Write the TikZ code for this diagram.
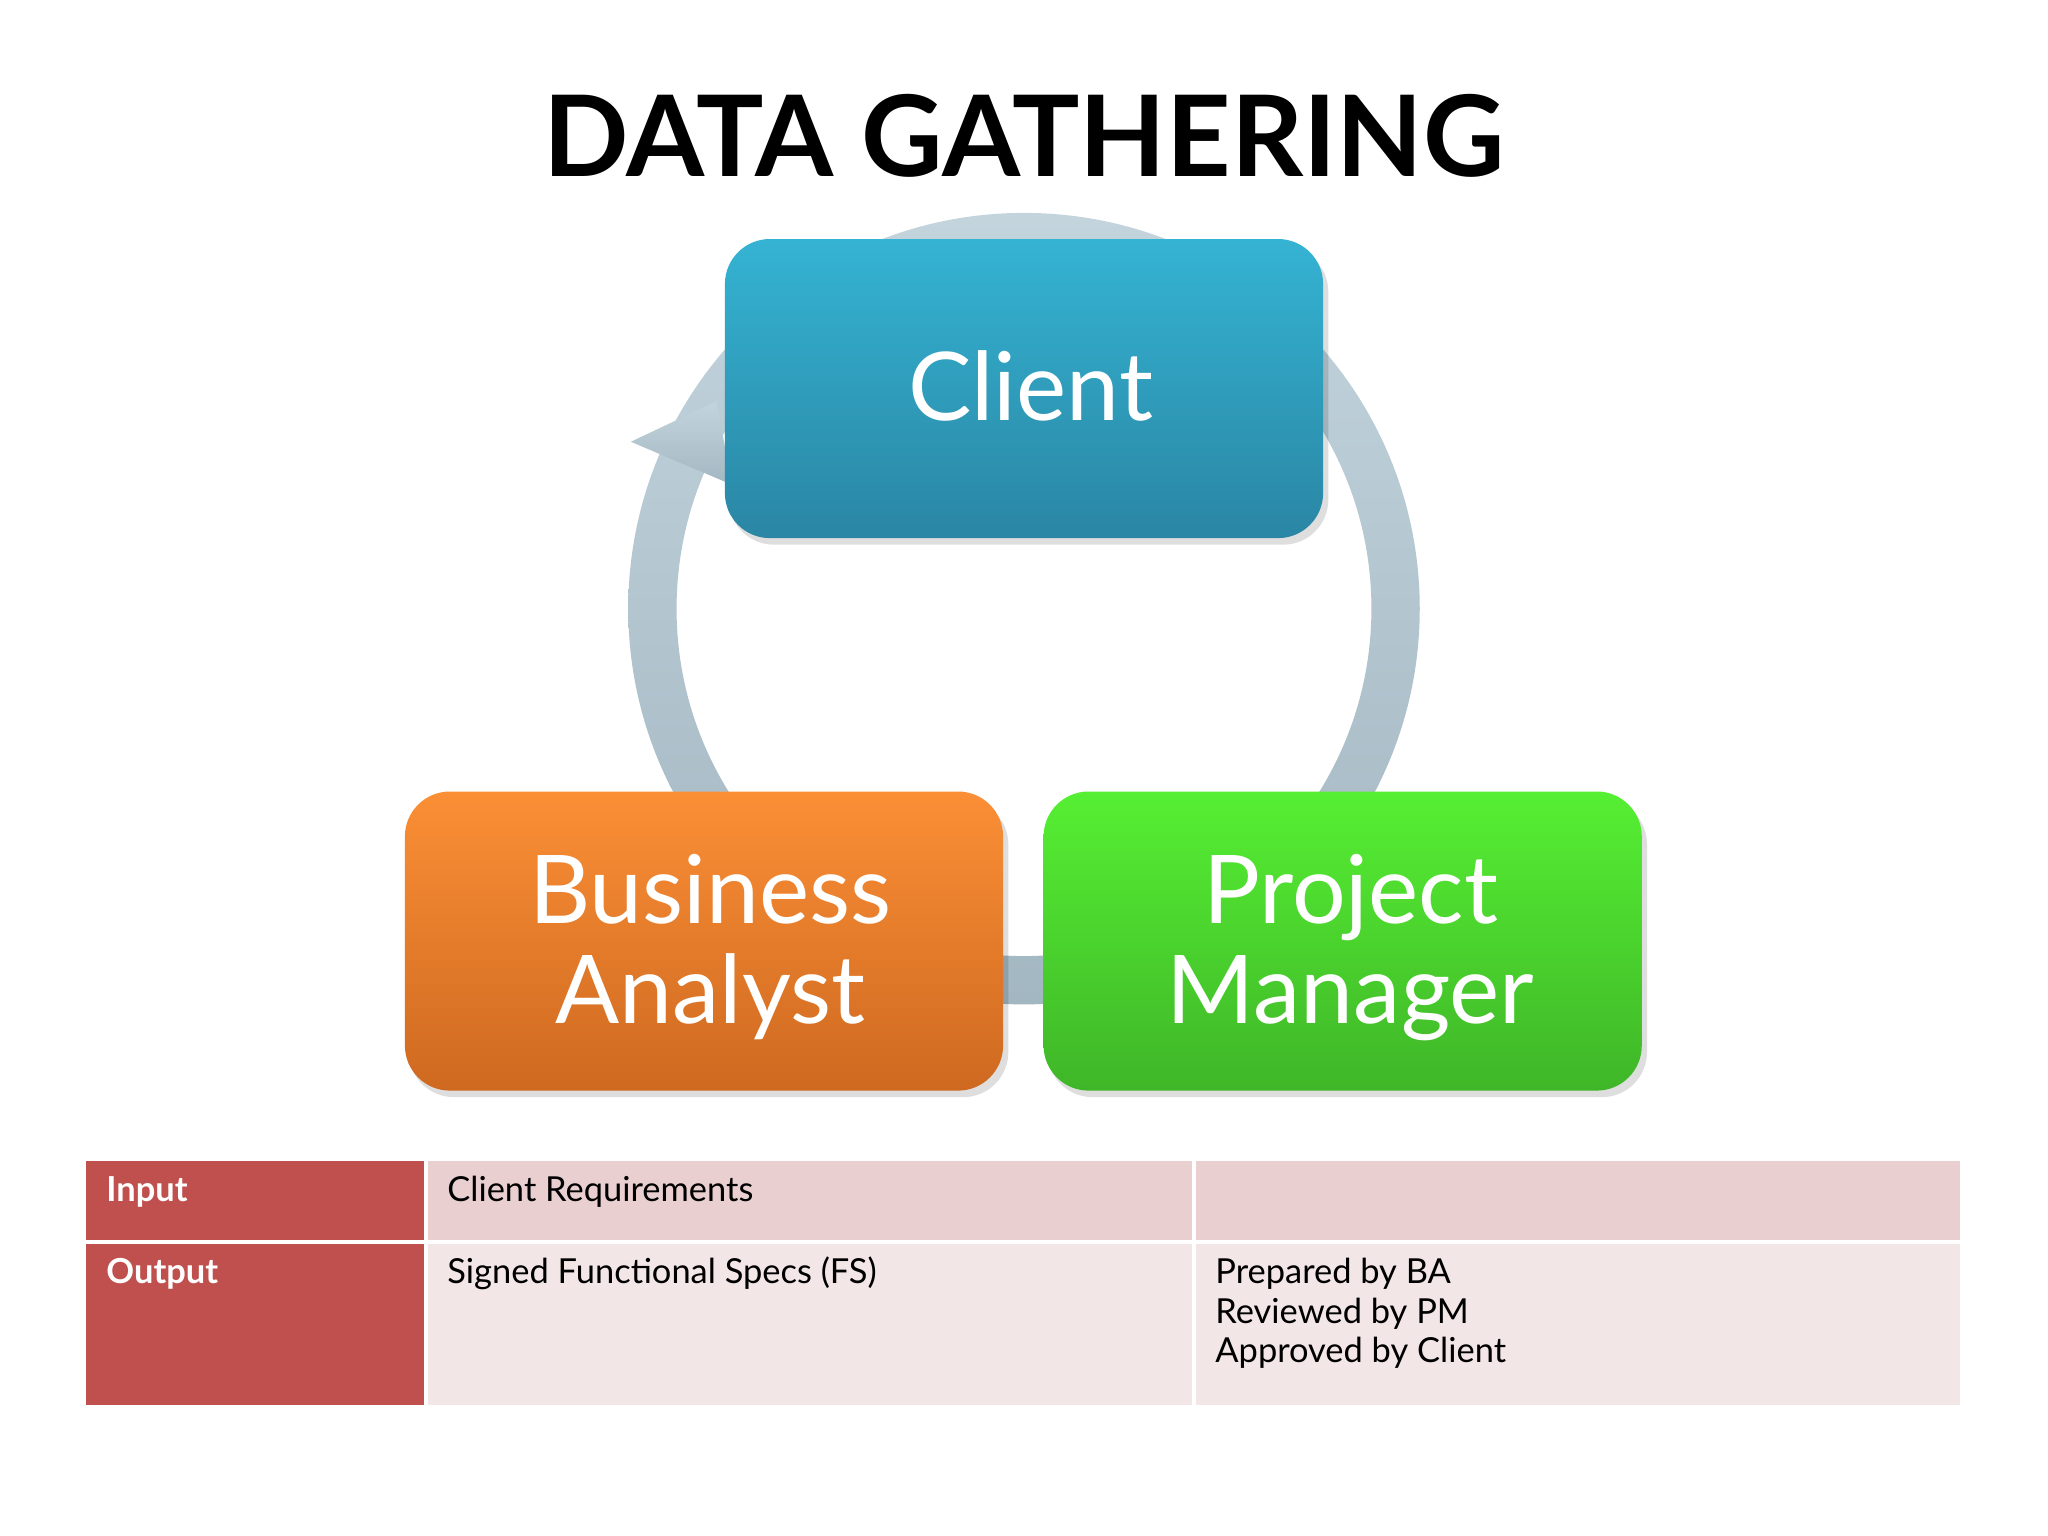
\documentclass[tikz,border=0pt]{standalone}
\usepackage{fontspec}
\setmainfont{Lato}
\usetikzlibrary{calc}
\begin{document}
\begin{tikzpicture}[x=0.01306cm,y=-0.01306cm,
  box/.style={rounded corners=0.45cm,minimum width=5.98cm,minimum height=2.99cm,inner sep=0},
  shad/.style={fill=black,opacity=0.13,rounded corners=0.45cm},
  big/.style={text=white,font=\fontsize{27}{32}\selectfont,anchor=base,inner sep=0},
  cell/.style={anchor=base west,font=\fontsize{9.8}{11}\selectfont,inner sep=0},
  hcell/.style={cell,text=white,font=\fontsize{9.8}{11}\selectfont\bfseries}]
\definecolor{ringT}{HTML}{C3D4DD}\definecolor{ringB}{HTML}{A3B7C2}
\definecolor{hd}{HTML}{C0504D}\definecolor{r1}{HTML}{E9CFD0}\definecolor{r2}{HTML}{F3E6E6}
\definecolor{clT}{HTML}{35B3D3}\definecolor{clB}{HTML}{2A86A4}
\definecolor{baT}{HTML}{FB8F36}\definecolor{baB}{HTML}{CE6920}
\definecolor{pmT}{HTML}{56EF33}\definecolor{pmB}{HTML}{3FB628}
\useasboundingbox (0,0) rectangle (1568,1176);
\fill[white] (0,0) rectangle (1568,1176);
\coordinate (c) at (784,466);
\node[font=\fontsize{32}{38}\selectfont\bfseries,anchor=base,inner sep=0] (title) at (784,135) {DATA GATHERING};
% ring
\shade[top color=ringT,bottom color=ringB,even odd rule] (c) circle (303) (c) circle (266);
\shade[top color=ringT,bottom color=ringB] ($(c)+(203:243)$) -- ($(c)+(203:327)$) -- ($(c)+(214:284)$) -- cycle;
% shadows
\fill[shad] (558,189) rectangle (1017,417);
\fill[shad] (313,612) rectangle (772,840);
\fill[shad] (802,612) rectangle (1261,840);
% boxes
\shade[top color=clT,bottom color=clB,rounded corners=0.45cm] (555,183) rectangle (1013,412);
\shade[top color=baT,bottom color=baB,rounded corners=0.45cm] (310,606) rectangle (768,835);
\shade[top color=pmT,bottom color=pmB,rounded corners=0.45cm] (799,606) rectangle (1257,835);
\node[big] (cl) at (789,322) {Client};
\node[big] (ba1) at (544,707) {Business};
\node[big] (ba2) at (544,784) {Analyst};
\node[big] (pm1) at (1034,707) {Project};
\node[big] (pm2) at (1034,784) {Manager};
% table
\fill[r1] (326,889) rectangle (1501,951);
\fill[r2] (326,951) rectangle (1501,1076);
\fill[hd] (66,889) rectangle (326,1076);
\draw[white,line width=1.2pt] (66,951) -- (1501,951) (326,889) -- (326,1076) (914,889) -- (914,1076);
\node[hcell] (in) at (81,920) {Input};
\node[cell] (cr) at (342,920) {Client Requirements};
\node[hcell] (out) at (81,983) {Output};
\node[cell] (fs) at (342,983) {Signed Functional Specs (FS)};
\node[cell] (p1) at (930,983) {Prepared by BA};
\node[cell] (p2) at (930,1013) {Reviewed by PM};
\node[cell] (p3) at (930,1043) {Approved by Client};
\end{tikzpicture}
\end{document}
